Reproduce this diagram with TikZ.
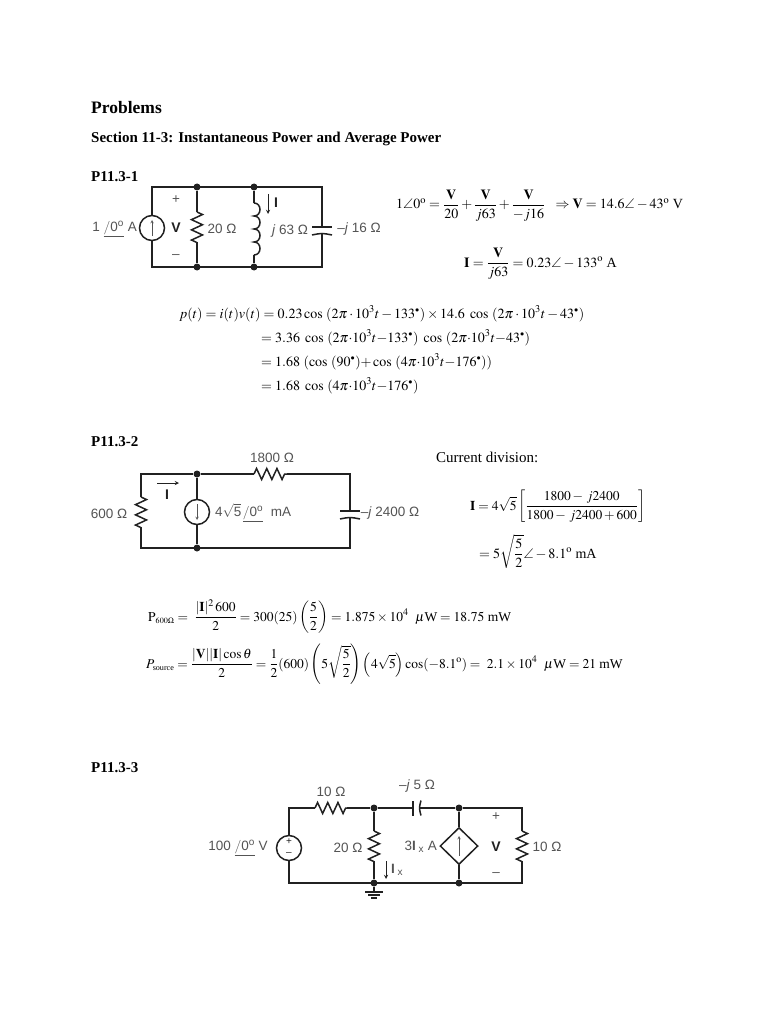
\documentclass[tikz,border=0pt]{standalone}
\usepackage{amsmath}
\usepackage{amssymb}
\usepackage{mathptmx}
\usepackage[no-math]{fontspec}
\setmainfont{Liberation Serif}
\newfontfamily\cktfont[Ligatures=TeX]{Liberation Sans}
\usetikzlibrary{arrows, positioning, shapes.geometric, decorations.pathmorphing}
\definecolor{inkdark}{gray}{0.13}
\definecolor{inkgray}{gray}{0.33}
\newcommand{\phasorang}[1]{\underline{/#1}}
\newcommand{\degs}{\textsuperscript{o}}
\newcommand{\dotdeg}{^{\scriptscriptstyle\bullet}}
\newcommand{\degb}{^{\mathrm{o}}}

\begin{document}
\begin{tikzpicture}[
    x=1pt, y=-1pt,
    >=stealth,
    wire/.style={line width=1.5pt, draw=inkdark},
    res/.style={wire, decorate, decoration={zigzag, segment length=10.2pt, amplitude=5.5pt}},
    dot/.style={circle, fill=inkdark, inner sep=0pt, minimum size=7pt},
    source/.style={circle, wire, fill=white, inner sep=0pt, minimum size=25pt},
    dsource/.style={diamond, wire, fill=white, inner sep=0pt, minimum width=38pt, minimum height=37pt},
    flow/.style={line width=0.9pt, draw=inkdark, ->},
    thinflow/.style={line width=0.5pt, draw=inkgray, ->},
    lab/.style={font=\cktfont\fontsize{13.5}{15}\selectfont, text=inkgray, inner sep=0pt},
    sign/.style={font=\cktfont\bfseries\fontsize{14}{16}\selectfont, text=inkdark, inner sep=0pt},
    head/.style={anchor=base west, inner sep=0pt, font=\bfseries\fontsize{15}{17}\selectfont},
    eqn/.style={anchor=base west, inner sep=0pt, font=\fontsize{14}{16}\selectfont},
    eqs/.style={anchor=base west, inner sep=0pt, font=\fontsize{13.5}{16}\selectfont}
]
\useasboundingbox (0,0) rectangle (768,1024);

% headings
\node (title) [head, font=\bfseries\fontsize{17.5}{20}\selectfont] at (91,114) {Problems};
\node (sect) [head] at (91,143) {Section 11-3: Instantaneous Power and Average Power};
\node (prob1) [head] at (91,182) {P11.3-1};
\node (prob2) [head] at (91,446) {P11.3-2};
\node (prob3) [head] at (91,772) {P11.3-3};

% circuit P11.3-1
\coordinate (atl) at (152,187);
\coordinate (abl) at (152,267);
\coordinate (atr) at (322,187);
\coordinate (abr) at (322,267);
\node (at1) [dot] at (197,187) {};
\node (at2) [dot] at (254,187) {};
\node (ab1) [dot] at (197,267) {};
\node (ab2) [dot] at (254,267) {};
\node (asrc) [source] at (152,228) {};
\coordinate (ara) at (197,212);
\coordinate (arb) at (197,243);
\coordinate (ala) at (254,203);
\coordinate (alb) at (254,255);
\coordinate (aca) at (322,227);
\coordinate (acb) at (322,233);
\coordinate (asa) at (152,236);
\coordinate (asb) at (152,220);

\draw[wire] (asrc) -- (atl) -- (atr) -- (aca);
\draw[wire] (asrc) -- (abl) -- (abr) -- (acb);
\draw[wire] (at1) -- (ara);
\draw[res] (ara) -- (arb);
\draw[wire] (arb) -- (ab1);
\draw[wire] (at2) -- (ala);
\draw[wire] (ala) .. controls +(8,0) and +(8,0) .. ++(0,13)
    .. controls +(8,0) and +(8,0) .. ++(0,13)
    .. controls +(8,0) and +(8,0) .. ++(0,13)
    .. controls +(8,0) and +(8,0) .. (alb);
\draw[wire] (alb) -- (ab2);
\draw[wire] ([xshift=-10pt]aca) -- ([xshift=10pt]aca);
\draw[wire] ([xshift=-10pt,yshift=-2pt]acb) .. controls (acb) .. ([xshift=10pt,yshift=-2pt]acb);
\draw[thinflow] (asa) -- (asb);
\coordinate (aia) at (268,194);
\coordinate (aib) at (268,214);
\draw[flow] (aia) -- (aib);

\node (alsrc) [lab, anchor=east] at (137,229) {1 $\phasorang{\text{0\degs}}$ A};
\node (alv) [sign] at (176,228) {V};
\node (alp) [lab] at (176,200) {+};
\node (alm) [lab] at (176,257) {--};
\node (alr) [lab] at (222,229) {20 Ω};
\node (all) [lab] at (290,231) {\textit{j} 63 Ω};
\node (alc) [lab] at (359,229) {--\textit{j} 16 Ω};
\node (ali) [sign] at (276,203) {I};

% solution P11.3-1
\node (eqa) [eqn] at (396,209) {$\displaystyle 1\angle 0\degb = \frac{\mathbf{V}}{20}+\frac{\mathbf{V}}{j63}+\frac{\mathbf{V}}{-j16}\ \ \Rightarrow \mathbf{V}=14.6\angle-43\degb\ \text{V}$};
\node (eqb) [eqn] at (464,267) {$\displaystyle \mathbf{I}=\frac{\mathbf{V}}{j63}=0.23\angle-133\degb\ \text{A}$};
\node (eqc) [eqn] at (179,318) {$p(t)=i(t)v(t)=0.23\cos\ (2\pi\cdot 10^{3}t-133\dotdeg)\times 14.6\ \cos\ (2\pi\cdot 10^{3}t-43\dotdeg)$};
\node (eqd) [eqn] at (261,342) {$=3.36\ \cos\ (2\pi{\cdot}10^{3}t{-}133\dotdeg)\ \cos\ (2\pi{\cdot}10^{3}t{-}43\dotdeg)$};
\node (eqe) [eqn] at (261,366) {$=1.68\ (\cos\ (90\dotdeg){+}\cos\ (4\pi{\cdot}10^{3}t{-}176\dotdeg))$};
\node (eqf) [eqn] at (261,390) {$=1.68\ \cos\ (4\pi{\cdot}10^{3}t{-}176\dotdeg)$};

% circuit P11.3-2
\coordinate (btl) at (141,474);
\coordinate (bbl) at (141,548);
\coordinate (btr) at (350,474);
\coordinate (bbr) at (350,548);
\node (bt1) [dot] at (197,474) {};
\node (bb1) [dot] at (197,548) {};
\node (bsrc) [source] at (197,512) {};
\coordinate (bra) at (141,497);
\coordinate (brb) at (141,528);
\coordinate (bsa) at (254,474);
\coordinate (bsb) at (287,474);
\coordinate (bca) at (350,511);
\coordinate (bcb) at (350,517);
\coordinate (bqa) at (197,504);
\coordinate (bqb) at (197,520);

\draw[wire] (bra) -- (btl) -- (bt1) -- (bsa);
\draw[res] (bsa) -- (bsb);
\draw[wire] (bsb) -- (btr) -- (bca);
\draw[res] (bra) -- (brb);
\draw[wire] (brb) -- (bbl) -- (bbr) -- (bcb);
\draw[wire] (bt1) -- (bsrc) -- (bb1);
\draw[wire] ([xshift=-10pt]bca) -- ([xshift=10pt]bca);
\draw[wire] ([xshift=-10pt,yshift=-2pt]bcb) .. controls (bcb) .. ([xshift=10pt,yshift=-2pt]bcb);
\draw[thinflow] (bqa) -- (bqb);
\coordinate (bia) at (157,483);
\coordinate (bib) at (179,483);
\draw[flow] (bia) -- (bib);

\node (blr) [lab] at (109,514) {600 Ω};
\node (bls) [lab] at (272,458) {1800 Ω};
\node (bli) [sign] at (167,495) {I};
\node (blsrc) [lab, anchor=west] at (215,513) {4$\sqrt{\text{5}}\,\phasorang{\text{0\degs}}$\ \ mA};
\node (blc) [lab] at (390,513) {--\textit{j} 2400 Ω};

% solution P11.3-2
\node (curdiv) [eqn, font=\fontsize{15}{17}\selectfont] at (436,462) {Current division:};
\node (eqg) [eqs] at (470,510) {$\displaystyle \mathbf{I}=4\sqrt{5}\left[\frac{1800-\,j2400}{1800-\,j2400+600}\right]$};
\node (eqh) [eqn] at (479,558) {$\displaystyle =5\sqrt{\frac{5}{2}}\angle-8.1\degb\ \text{mA}$};
\node (eqi) [eqs] at (148,621) {$\displaystyle \mathrm{P}_{\scriptscriptstyle 600\Omega}=\ \frac{|\mathbf{I}|^{2}\,600}{2}=300(25)\left(\frac{5}{2}\right)=1.875\times 10^{4}\ \ \mu\text{W}=18.75\ \text{mW}$};
\node (eqj) [eqs] at (146,668) {$\displaystyle P_{\scriptscriptstyle\text{source}}=\frac{|\mathbf{V}||\mathbf{I}|\cos\theta}{2}=\frac{1}{2}(600)\left(5\sqrt{\frac{5}{2}}\right)\left(4\sqrt{5}\right)\cos(-8.1\degb)=\ 2.1\times 10^{4}\ \ \mu\text{W}=21\ \text{mW}$};

% circuit P11.3-3
\coordinate (ctl) at (289,808);
\coordinate (cbl) at (289,883);
\coordinate (ctr) at (522,808);
\coordinate (cbr) at (522,883);
\node (ct1) [dot] at (374,808) {};
\node (ct2) [dot] at (459,808) {};
\node (cb1) [dot] at (374,883) {};
\node (cb2) [dot] at (459,883) {};
\node (csrc) [source] at (289,848) {};
\node (cdep) [dsource] at (459,846) {};
\coordinate (csa) at (315,808);
\coordinate (csb) at (347,808);
\coordinate (cra) at (374,831);
\coordinate (crb) at (374,862);
\coordinate (cqa) at (522,831);
\coordinate (cqb) at (522,862);
\coordinate (cca) at (413,808);
\coordinate (ccb) at (419,808);
\coordinate (gnd) at (374,892);
\coordinate (cda) at (459,856);
\coordinate (cdb) at (459,836);

\draw[wire] (csrc) -- (ctl) -- (csa);
\draw[res] (csa) -- (csb);
\draw[wire] (csb) -- (ct1) -- (cca);
\draw[wire] (ccb) -- (ct2) -- (ctr) -- (cqa);
\draw[res] (cqa) -- (cqb);
\draw[wire] (cqb) -- (cbr) -- (cbl) -- (csrc);
\draw[wire] (ct1) -- (cra);
\draw[res] (cra) -- (crb);
\draw[wire] (crb) -- (cb1);
\draw[wire] (ct2) -- (cdep) -- (cb2);
\draw[wire] ([yshift=-7.5pt]cca) -- ([yshift=7.5pt]cca);
\draw[wire] ([xshift=2pt,yshift=-7.5pt]ccb) .. controls (ccb) .. ([xshift=2pt,yshift=7.5pt]ccb);
\draw[wire] (cb1) -- (gnd);
\draw[wire] ([xshift=-9pt]gnd) -- ([xshift=9pt]gnd);
\draw[wire] ([xshift=-6pt,yshift=-3pt]gnd) -- ([xshift=6pt,yshift=-3pt]gnd);
\draw[wire] ([xshift=-3pt,yshift=-6pt]gnd) -- ([xshift=3pt,yshift=-6pt]gnd);
\draw[thinflow] (cda) -- (cdb);
\coordinate (cia) at (386,861);
\coordinate (cib) at (386,879);
\draw[flow] (cia) -- (cib);

\node (clp) [sign, font=\cktfont\fontsize{10}{11}\selectfont] at (289,842) {+};
\node (clm) [sign, font=\cktfont\fontsize{10}{11}\selectfont] at (289,854) {--};
\node (clsrc) [lab] at (238,848) {100 $\phasorang{\text{0\degs}}$ V};
\node (cls) [lab] at (331,792) {10 Ω};
\node (clc) [lab] at (417,786) {--\textit{j} 5 Ω};
\node (clr) [lab] at (348,848) {20 Ω};
\node (clx) [lab, anchor=west] at (391,870) {\textbf{I}\textsubscript{ x}};
\node (cldep) [lab, anchor=east] at (437,847) {3\textbf{I}\textsubscript{ x} A};
\node (clv) [sign] at (496,847) {V};
\node (clvp) [lab] at (496,817) {+};
\node (clvm) [lab] at (496,875) {--};
\node (clq) [lab] at (547,847) {10 Ω};

\end{tikzpicture}
\end{document}
